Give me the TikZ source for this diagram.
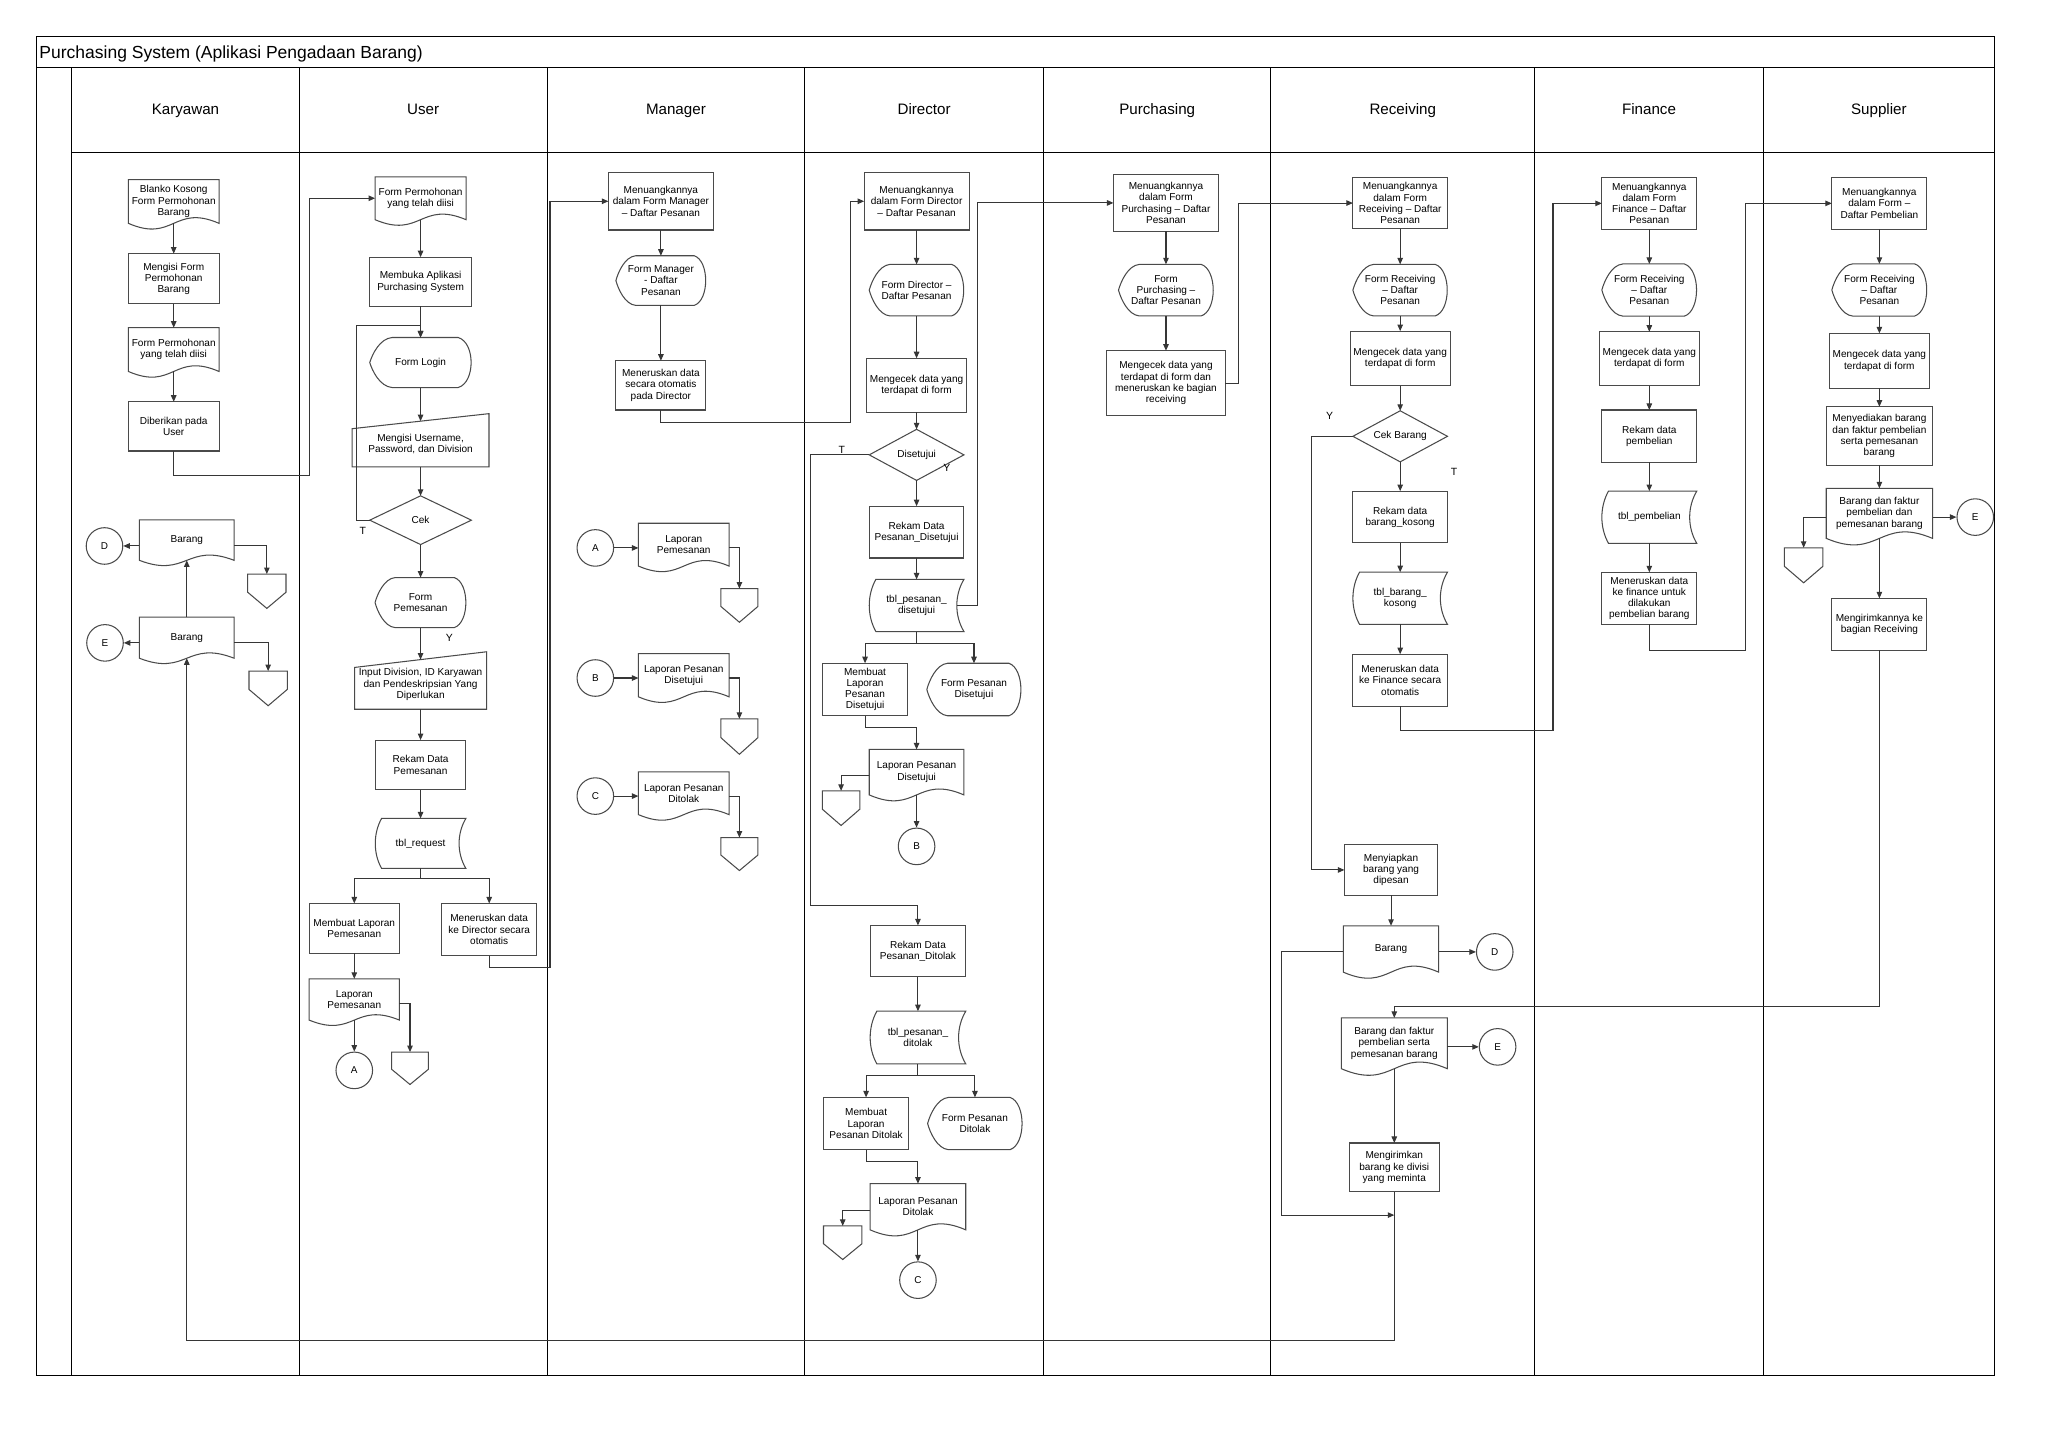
\documentclass[tikz,border=0pt]{standalone}
\usepackage{fontspec}
\setmainfont{Liberation Sans}
\usetikzlibrary{calc,arrows.meta}
\definecolor{shapegray}{HTML}{4A4A4A}
\definecolor{linegray}{HTML}{363636}
\newcommand{\bxfont}{\fontsize{7.7}{8.6}\selectfont}
\newcommand{\hdrfont}{\fontsize{11.6}{13}\selectfont}
\newcommand{\ttlfont}{\fontsize{13.4}{15}\selectfont}
\newcommand{\lblfnt}{\fontsize{8}{9}\selectfont}
\newcommand{\crcfont}{\fontsize{7.6}{9}\selectfont}
% rectangle
\newcommand{\RectN}[6]{\node[base,shp,minimum width=#4pt,minimum height=#5pt] (#1) at (#2,#3) {#6};}
% decision
\newcommand{\DiaN}[6]{%
 \node[base,minimum width=#4pt,minimum height=#5pt] (#1) at (#2,#3) {#6};
 \draw[shp] (#1.north) -- (#1.east) -- (#1.south) -- (#1.west) -- cycle;}
% document
\newcommand{\DocN}[6]{%
 \pgfmathsetmacro{\pXa}{#2-#4/2}\pgfmathsetmacro{\pXb}{#2+#4/2}%
 \pgfmathsetmacro{\pYa}{#3-#5/2}\pgfmathsetmacro{\pYb}{#3+#5/2}%
 \pgfmathsetmacro{\pC}{0.45*#5}%
 \draw[shp] (\pXa,\pYb) -- (\pXa,\pYa) -- (\pXb,\pYa) -- (\pXb,\pYb) .. controls (#2,{\pYb-\pC}) and (#2,{\pYb+\pC}) .. (\pXa,\pYb) -- cycle;
 \node[base,minimum width=#4pt,minimum height=#5pt] (#1) at (#2,#3) {#6};}
% display
\newcommand{\DispN}[6]{%
 \pgfmathsetmacro{\pXa}{#2-#4/2}\pgfmathsetmacro{\pXb}{#2+#4/2}%
 \pgfmathsetmacro{\pYa}{#3-#5/2}\pgfmathsetmacro{\pYb}{#3+#5/2}%
 \pgfmathsetmacro{\pXl}{\pXa+0.22*#4}\pgfmathsetmacro{\pXr}{\pXb-0.13*#4}%
 \pgfmathsetmacro{\pXrc}{\pXb+0.04*#4}\pgfmathsetmacro{\pXlc}{\pXa+0.1*#4}%
 \pgfmathsetmacro{\pXlt}{\pXa+0.025*#4}%
 \draw[shp] (\pXl,\pYa) -- (\pXr,\pYa) .. controls (\pXrc,{\pYa+0.1*#5}) and (\pXrc,{\pYb-0.1*#5}) .. (\pXr,\pYb) -- (\pXl,\pYb) .. controls (\pXlc,{\pYb-0.02*#5}) and (\pXlt,{#3+0.17*#5}) .. (\pXa,#3) .. controls (\pXlt,{#3-0.17*#5}) and (\pXlc,{\pYa+0.02*#5}) .. (\pXl,\pYa) -- cycle;
 \node[base,minimum width=#4pt,minimum height=#5pt] (#1) at (#2,#3) {#6};}
% stored data
\newcommand{\StoreN}[6]{%
 \pgfmathsetmacro{\pXa}{#2-#4/2}\pgfmathsetmacro{\pXb}{#2+#4/2}%
 \pgfmathsetmacro{\pYa}{#3-#5/2}\pgfmathsetmacro{\pYb}{#3+#5/2}%
 \pgfmathsetmacro{\pXl}{\pXa+0.07*#4}\pgfmathsetmacro{\pXlc}{\pXa-0.023*#4}%
 \pgfmathsetmacro{\pXrc}{\pXb-0.1*#4}\pgfmathsetmacro{\pXri}{\pXb-0.075*#4}%
 \draw[shp] (\pXl,\pYa) -- (\pXb,\pYa) .. controls (\pXrc,{\pYa+0.3*#5}) and (\pXrc,{\pYb-0.3*#5}) .. (\pXb,\pYb) -- (\pXl,\pYb) .. controls (\pXlc,{\pYb-0.3*#5}) and (\pXlc,{\pYa+0.3*#5}) .. (\pXl,\pYa) -- cycle;
 \node[base,minimum width=#4pt,minimum height=#5pt] (#1) at (#2,#3) {#6};
 \coordinate (#1-r) at (\pXri,#3);}
% manual input
\newcommand{\ManN}[7]{%
 \pgfmathsetmacro{\pXa}{#2-#4/2}\pgfmathsetmacro{\pXb}{#2+#4/2}%
 \pgfmathsetmacro{\pYa}{#3-#5/2}\pgfmathsetmacro{\pYb}{#3+#5/2}%
 \pgfmathsetmacro{\pH}{#5-#6/2}\pgfmathsetmacro{\pYc}{#3+#6/4}%
 \draw[shp] (\pXa,{\pYa+#6}) -- (\pXb,\pYa) -- (\pXb,\pYb) -- (\pXa,\pYb) -- cycle;
 \node[base,minimum width=#4pt,minimum height=\pH pt] (#1) at (#2,\pYc) {#7};}
% off-page connector
\newcommand{\OffN}[5]{%
 \pgfmathsetmacro{\pXa}{#2-#4/2}\pgfmathsetmacro{\pXb}{#2+#4/2}%
 \pgfmathsetmacro{\pYm}{#3+0.53*#5}\pgfmathsetmacro{\pYb}{#3+#5}\pgfmathsetmacro{\pYc}{#3+#5/2}%
 \draw[shp] (\pXa,#3) -- (\pXb,#3) -- (\pXb,\pYm) -- (#2,\pYb) -- (\pXa,\pYm) -- cycle;
 \node[base,minimum width=#4pt,minimum height=#5pt] (#1) at (#2,\pYc) {};}
\newcommand{\vl}[2]{\draw[arr] (#1.south) -- (#1.south |- #2.north);}
\begin{document}
\begin{tikzpicture}[x=1pt,y=-1pt,
  base/.style={inner sep=0pt,outer sep=0pt,align=center,font=\bxfont},
  shp/.style={draw=shapegray,line width=0.8pt},
  lane/.style={draw=black,line width=0.75pt},
  ln/.style={draw=linegray,line width=0.8pt},
  arr/.style={ln,-{Triangle[length=5pt,width=4.2pt]}},
  circ/.style={circle,draw=shapegray,line width=0.8pt,minimum size=28pt,inner sep=0pt,font=\crcfont},
  hdr/.style={font=\hdrfont,inner sep=0pt,anchor=base},
  lbl/.style={font=\lblfnt,inner sep=0pt}]
\useasboundingbox (0,0) rectangle (1568,1109);
\fill[white] (0,0) rectangle (1568,1109);
% ---------- frame and lanes ----------
\draw[lane,line width=0.9pt] (28,28) rectangle (1527,1053);
\draw[lane] (28,52) -- (1527,52);
\draw[lane] (55,117) -- (1527,117);
\foreach \lx in {55,229,419,616,799,973,1175,1350} {\draw[lane] (\lx,52) -- (\lx,1053);}
\node[font=\ttlfont,inner sep=0pt,anchor=base west] (title) at (30,45) {Purchasing System (Aplikasi Pengadaan Barang)};
\node[hdr] (hK) at (142,88) {Karyawan};
\node[hdr] (hU) at (324,88) {User};
\node[hdr] (hM) at (517.5,88) {Manager};
\node[hdr] (hD) at (707.5,88) {Director};
\node[hdr] (hP) at (886,88) {Purchasing};
\node[hdr] (hR) at (1074,88) {Receiving};
\node[hdr] (hF) at (1262.5,88) {Finance};
\node[hdr] (hS) at (1438.5,88) {Supplier};
% ---------- Karyawan ----------
\DocN{K1}{133}{154.25}{69.4}{33.5}{Blanko Kosong\\Form Permohonan\\Barang}
\RectN{K2}{133}{213.35}{69.4}{38.3}{Mengisi Form\\Permohonan\\Barang}
\DocN{K3}{133}{267.65}{69.4}{33.5}{Form Permohonan\\yang telah diisi}
\RectN{K4}{133}{326.45}{69.4}{37.7}{Diberikan pada\\User}
\DocN{KB1}{143}{413.5}{72.5}{31}{Barang}
\node[circ] (KD) at (80,418) {D};
\OffN{KO1}{204.3}{439.5}{29.3}{26.3}
\DocN{KB2}{143}{488.2}{72.5}{31.5}{Barang}
\node[circ] (KE) at (80.4,492.2) {E};
\OffN{KO2}{205.3}{513.8}{29.3}{26.5}
% ---------- User ----------
\DocN{U1}{322}{151.8}{69.7}{32.8}{Form Permohonan\\yang telah diisi}
\RectN{U2}{322}{215.75}{77.8}{37.7}{Membuka Aplikasi\\Purchasing System}
\DispN{U3}{322}{277.55}{77.8}{38.3}{Form Login}
\ManN{U4}{322}{337.05}{104.8}{40.7}{11.5}{Mengisi Username,\\Password, dan Division}
\DiaN{U5}{322}{398.25}{77.8}{37.3}{Cek}
\DispN{U6}{322}{461.35}{69.7}{38.3}{Form\\Pemesanan}
\ManN{U7}{322}{521}{101.1}{44}{12}{Input Division, ID Karyawan\\dan Pendeskripsian Yang\\Diperlukan}
\RectN{U8}{322}{585.65}{69.4}{38.1}{Rekam Data\\Pemesanan}
\StoreN{U9}{322}{645.75}{69.4}{38.3}{tbl\_request}
\RectN{U10}{271.25}{710.75}{69.1}{38.1}{Membuat Laporan\\Pemesanan}
\RectN{U11}{374.55}{711.65}{72.7}{39.9}{Meneruskan data\\ke Director secara\\otomatis}
\DocN{U12}{271.25}{765.2}{69.1}{31.6}{Laporan\\Pemesanan}
\node[circ] (UA) at (271.25,819.5) {A};
\OffN{UO}{313.9}{805.5}{28.2}{24.8}
% ---------- Manager ----------
\RectN{M1}{506}{154.1}{80.4}{44}{Menuangkannya\\dalam Form Manager\\– Daftar Pesanan}
\DispN{M2}{506}{214.8}{68.9}{38}{Form Manager\\- Daftar\\Pesanan}
\RectN{M3}{506}{295.05}{68.9}{37.7}{Meneruskan data\\secara otomatis\\pada Director}
\node[circ] (MA) at (455.8,419.5) {A};
\DocN{M4}{523.5}{417}{69.4}{32.8}{Laporan\\Pemesanan}
\OffN{MO1}{566.1}{450.7}{28.3}{25.7}
\node[circ] (MB) at (455.8,519.1) {B};
\DocN{M5}{523.5}{517}{69.4}{33}{Laporan Pesanan\\Disetujui}
\OffN{MO2}{566.1}{550.4}{28.3}{27.1}
\node[circ] (MC) at (455.8,609.5) {C};
\DocN{M6}{523.5}{607.35}{69.4}{32.7}{Laporan Pesanan\\Ditolak}
\OffN{MO3}{566.1}{641.3}{28.3}{25.2}
% ---------- Director ----------
\RectN{D1}{701.75}{154.1}{80.3}{44}{Menuangkannya\\dalam Form Director\\– Daftar Pesanan}
\DispN{D2}{701.75}{222.15}{72.5}{39.5}{Form Director –\\Daftar Pesanan}
\RectN{D3}{701.75}{295.05}{76.6}{41.5}{Mengecek data yang\\terdapat di form}
\DiaN{D4}{701.75}{348.25}{72.5}{39.1}{Disetujui}
\RectN{D5}{701.75}{407.35}{72.5}{39.7}{Rekam Data\\Pesanan\_Disetujui}
\StoreN{D6}{701.75}{463.55}{72.5}{39.9}{tbl\_pesanan\_\\disetujui}
\RectN{D7}{662.3}{527.9}{65.4}{40.2}{Membuat\\Laporan\\Pesanan\\Disetujui}
\DispN{D8}{745.7}{527.9}{72.2}{40.2}{Form Pesanan\\Disetujui}
\DocN{D9}{701.75}{591.2}{72.5}{34.8}{Laporan Pesanan\\Disetujui}
\OffN{DO1}{643.95}{605.5}{28.7}{26.5}
\node[circ] (DB) at (701.75,648) {B};
\RectN{D10}{702.8}{728.15}{73.2}{39.3}{Rekam Data\\Pesanan\_Ditolak}
\StoreN{D11}{702.8}{794.35}{73.2}{40.3}{tbl\_pesanan\_\\ditolak}
\RectN{D12}{663.1}{860.2}{65.2}{40}{Membuat\\Laporan\\Pesanan Ditolak}
\DispN{D13}{746.45}{860.2}{72.5}{40}{Form Pesanan\\Ditolak}
\DocN{D14}{702.8}{923.9}{73.2}{35.4}{Laporan Pesanan\\Ditolak}
\OffN{DO2}{645.2}{938.6}{29.4}{25.7}
\node[circ] (DC) at (702.8,980.1) {C};
% ---------- Purchasing ----------
\RectN{P1}{892.7}{155.35}{80.4}{43.7}{Menuangkannya\\dalam Form\\Purchasing – Daftar\\Pesanan}
\DispN{P2}{892.7}{222.15}{72.7}{39.5}{Form\\Purchasing –\\Daftar Pesanan}
\RectN{P3}{892.7}{293.3}{91.1}{49.6}{Mengecek data yang\\terdapat di form dan\\meneruskan ke bagian\\receiving}
% ---------- Receiving ----------
\RectN{R1}{1072}{155.45}{72.4}{39.7}{Menuangkannya\\dalam Form\\Receiving – Daftar\\Pesanan}
\DispN{R2}{1072}{222.15}{72.4}{39.5}{Form Receiving\\– Daftar\\Pesanan}
\RectN{R3}{1072}{274.4}{76.6}{41.8}{Mengecek data yang\\terdapat di form}
\DiaN{R4}{1072}{334.05}{72.4}{39.1}{Cek Barang}
\RectN{R5}{1072}{395.85}{72.4}{39.7}{Rekam data\\barang\_kosong}
\StoreN{R6}{1072}{458.05}{72.4}{39.9}{tbl\_barang\_\\kosong}
\RectN{R7}{1072}{520.75}{72.4}{39.7}{Meneruskan data\\ke Finance secara\\otomatis}
\RectN{R8}{1065}{666.05}{71.4}{39.1}{Menyiapkan\\barang yang\\dipesan}
\DocN{R9}{1065}{726.55}{73}{35.5}{Barang}
\node[circ] (RD) at (1144.4,728.8) {D};
\DocN{R10}{1067.5}{798.75}{81.2}{38.9}{Barang dan faktur\\pembelian serta\\pemesanan barang}
\node[circ] (RE) at (1146.6,801.5) {E};
\RectN{R11}{1067.5}{893.8}{69.2}{37.4}{Mengirimkan\\barang ke divisi\\yang meminta}
% ---------- Finance ----------
\RectN{F1}{1262.75}{155.7}{72.7}{39.8}{Menuangkannya\\dalam Form\\Finance – Daftar\\Pesanan}
\DispN{F2}{1262.75}{222.05}{72.7}{39.9}{Form Receiving\\– Daftar\\Pesanan}
\RectN{F3}{1262.75}{274.65}{76.6}{41.3}{Mengecek data yang\\terdapat di form}
\RectN{F4}{1262.75}{333.95}{72.7}{40.1}{Rekam data\\pembelian}
\StoreN{F5}{1262.75}{396}{72.7}{40}{tbl\_pembelian}
\RectN{F6}{1262.75}{458.05}{72.7}{39.7}{Meneruskan data\\ke finance untuk\\dilakukan\\pembelian barang}
% ---------- Supplier ----------
\RectN{S1}{1438.9}{155.7}{72.8}{39.8}{Menuangkannya\\dalam Form –\\Daftar Pembelian}
\DispN{S2}{1438.9}{222}{72.8}{40}{Form Receiving\\– Daftar\\Pesanan}
\RectN{S3}{1438.9}{276.25}{76.5}{42.1}{Mengecek data yang\\terdapat di form}
\RectN{S4}{1438.9}{333.85}{81.4}{44.9}{Menyediakan barang\\dan faktur pembelian\\serta pemesanan\\barang}
\DocN{S5}{1438.9}{393.05}{81.4}{38.3}{Barang dan faktur\\pembelian dan\\pemesanan barang}
\node[circ] (SE) at (1512.3,395.9) {E};
\OffN{SO}{1380.9}{419.4}{29.4}{26.8}
\RectN{S6}{1438.9}{477.9}{72.8}{39.6}{Mengirimkannya ke\\bagian Receiving}
% ---------- labels ----------
\node[lbl] (lT1) at (277.7,406.4) {T};
\node[lbl] (lY1) at (344,488.4) {Y};
\node[lbl] (lT2) at (644.5,344.5) {T};
\node[lbl] (lY2) at (724.9,358.2) {Y};
\node[lbl] (lY3) at (1017.9,318.5) {Y};
\node[lbl] (lT3) at (1113.3,361) {T};
% ---------- connectors: Karyawan ----------
\vl{K1}{K2} \vl{K2}{K3} \vl{K3}{K4}
\draw[arr] (K4.south) |- (236.6,364.2) |- (U1.west);
\draw[arr] (KB1.west |- KD) -- (KD);
\draw[arr] (KB1.east |- KD) -| (KO1.north);
\draw[arr] (KB2.west |- KE) -- (KE);
\draw[arr] (KB2.east |- KE) -| (KO2.north);
\draw[arr] (KB2.north) -- (KB1.south);
% ---------- connectors: User ----------
\vl{U1}{U2} \vl{U2}{U3} \vl{U3}{U4} \vl{U4}{U5} \vl{U5}{U6} \vl{U6}{U7} \vl{U7}{U8} \vl{U8}{U9}
\draw[arr] (U5.west) -- (273.1,398.25) |- ($(U3.north)+(0,-9.3)$) -- (U3.north);
\coordinate (U9s) at ($(U9.south)+(0,8)$);
\draw[ln] (U9.south) -- (U9s);
\draw[arr] (U9s) -| (U10.north);
\draw[arr] (U9s) -| (U11.north);
\vl{U10}{U12}
\draw[arr] (U11.south) |- (421.1,740.7) |- (M1.west);
\vl{U12}{UA}
\draw[arr] ($(U12.east)+(0,3)$) -| (UO.north);
% ---------- connectors: Manager ----------
\vl{M1}{M2} \vl{M2}{M3}
\draw[arr] (M3.south) |- (650.8,323.2) |- (D1.west);
\draw[arr] (MA) -- (M4.west |- MA);
\draw[arr] (M4.east |- MA) -| (MO1.north);
\draw[arr] (MB) -- (M5.west |- MB);
\draw[arr] (M5.east |- MB) -| (MO2.north);
\draw[arr] (MC) -- (M6.west |- MC);
\draw[arr] (M6.east |- MC) -| (MO3.north);
% ---------- connectors: Director ----------
\vl{D1}{D2} \vl{D2}{D3} \vl{D3}{D4} \vl{D4}{D5} \vl{D5}{D6}
\draw[arr] (D4.west) -- (620.2,348.25) |- ($(D10.north)+(0,-15.2)$) -- (D10.north);
\draw[arr] (D6-r) -- (748.6,463.55) |- (P1.west);
\coordinate (D6s) at ($(D6.south)+(0,9.3)$);
\draw[ln] (D6.south) -- (D6s);
\draw[arr] (D6s) -| (D7.north);
\draw[arr] (D6s) -| (D8.north);
\draw[arr] (D7.south) |- ($(D9.north)+(0,-16.7)$) -- (D9.north);
\draw[arr] ($(D9.west)+(0,2.2)$) -| (DO1.north);
\vl{D9}{DB}
\vl{D10}{D11}
\coordinate (D11s) at ($(D11.south)+(0,9)$);
\draw[ln] (D11.south) -- (D11s);
\draw[arr] (D11s) -| (D12.north);
\draw[arr] (D11s) -| (D13.north);
\draw[arr] (D12.south) |- ($(D14.north)+(0,-17)$) -- (D14.north);
\draw[arr] ($(D14.west)+(0,2.6)$) -| (DO2.north);
\vl{D14}{DC}
% ---------- connectors: Purchasing ----------
\vl{P1}{P2} \vl{P2}{P3}
\draw[arr] (P3.east) -- (948.2,293.3) |- (R1.west);
% ---------- connectors: Receiving ----------
\vl{R1}{R2} \vl{R2}{R3} \vl{R3}{R4} \vl{R4}{R5} \vl{R5}{R6} \vl{R6}{R7}
\draw[arr] (R4.west) -- (1003.8,334.05) |- (R8.west);
\draw[arr] (R7.south) |- (1189,559.2) |- (F1.west);
\vl{R8}{R9}
\draw[arr] (R9.east |- RD) -- (RD);
\coordinate (mrg) at (1067.5,930.3);
\draw[arr] (R9.west |- RD) -- (981.2,728.8) |- (mrg);
\draw[arr] (S6.south) |- ($(R10.north)+(0,-9)$) -- (R10.north);
\draw[arr] (R10.east |- RE) -- (RE);
\vl{R10}{R11}
\draw[arr] (R11.south) -- (1067.5,1026) -| (KB2.south);
% ---------- connectors: Finance ----------
\vl{F1}{F2} \vl{F2}{F3} \vl{F3}{F4} \vl{F4}{F5} \vl{F5}{F6}
\draw[arr] (F6.south) |- (1336.4,497.7) |- (S1.west);
% ---------- connectors: Supplier ----------
\vl{S1}{S2} \vl{S2}{S3} \vl{S3}{S4} \vl{S4}{S5} \vl{S5}{S6}
\draw[arr] (S5.east |- SE) -- (SE);
\draw[arr] (S5.west |- SE) -| (SO.north);
\end{tikzpicture}
\end{document}
